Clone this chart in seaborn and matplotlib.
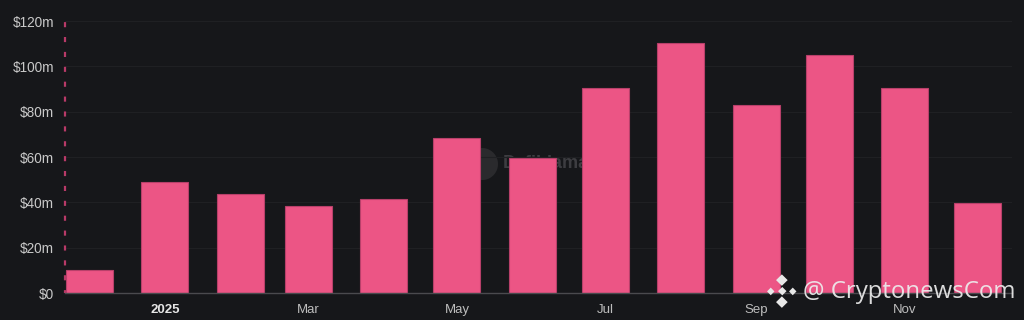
import matplotlib
matplotlib.use('Agg')
import matplotlib.dates as mdates
import matplotlib.pyplot as plt
import pandas as pd
import seaborn as sns

# monthly values ($m), bars centred on the first day of each month
months = ['2024-12-01', '2025-01-01', '2025-02-01', '2025-03-01', '2025-04-01',
          '2025-05-01', '2025-06-01', '2025-07-01', '2025-08-01', '2025-09-01',
          '2025-10-01', '2025-11-01', '2025-12-01']
values = [10.2, 49.0, 43.8, 38.5, 41.5, 68.5, 59.5, 90.6, 110.4, 83.0,
          105.0, 90.5, 39.7]

tick_dates = ['2025-01-01', '2025-03-01', '2025-05-01', '2025-07-01',
              '2025-09-01', '2025-11-01']
tick_labels = ['2025', 'Mar', 'May', 'Jul', 'Sep', 'Nov']
y_ticks = [0, 20, 40, 60, 80, 100, 120]
y_labels = ['$0', '$20m', '$40m', '$60m', '$80m', '$100m', '$120m']

BG = '#16171a'
PINK = '#ec5585'

df = pd.DataFrame({'x': mdates.date2num(pd.to_datetime(months)), 'value': values})

sns.set_style('dark')
plt.rcParams['font.family'] = ['Liberation Sans', 'DejaVu Sans']

fig = plt.figure(figsize=(10.24, 3.2), dpi=100, facecolor=BG)
ax = fig.add_axes([65 / 1024, 27 / 320, 947 / 1024, 272 / 320])
ax.set_facecolor(BG)

# faint DefiLlama watermark, behind the bars
ax.text(482 / 1024, 157 / 320, '\u25cf', color='#2a2a2d', fontsize=30,
        ha='center', va='center', transform=fig.transFigure, zorder=0.5,
        family='DejaVu Sans')
ax.text(503 / 1024, 157 / 320, 'DefiLlama', color='#3d3d41', fontsize=13,
        fontweight='bold', ha='left', va='center', transform=fig.transFigure,
        zorder=0.5)

sns.barplot(data=df, x='x', y='value', native_scale=True, width=0.69,
            color=PINK, saturation=1, edgecolor='#b8406a', linewidth=0.8,
            zorder=2, ax=ax)

first = mdates.date2num(pd.Timestamp(months[0]))
last = mdates.date2num(pd.Timestamp(months[-1]))
ax.set_xlim(first - 10.1, last + 14.2)
ax.set_ylim(0, 120)

# axes styling
ax.set_yticks(y_ticks)
ax.set_yticklabels(y_labels)
ax.set_xticks(mdates.date2num(pd.to_datetime(tick_dates)))
ax.set_xticklabels(tick_labels)
ax.set_xlabel('')
ax.set_ylabel('')
ax.grid(axis='y', color='#1f2023', linewidth=0.8)
ax.set_axisbelow(True)
ax.tick_params(axis='y', length=0, pad=8, labelsize=9.8, labelcolor='#c9c9c9')
ax.tick_params(axis='x', length=4, width=0.8, color='#bbbbbb', pad=4,
               labelsize=9.5, labelcolor='#bdbdbd')
ax.get_xticklabels()[0].set_fontweight('bold')
ax.get_xticklabels()[0].set_color('#e6e6e6')

for s in ['top', 'right', 'left']:
    ax.spines[s].set_visible(False)
ax.spines['bottom'].set_color('#4a4a4e')
ax.spines['bottom'].set_linewidth(1)

# dashed marker line on the left edge
ax.axvline(first - 9.9, color='#b83a68', linewidth=1.6,
           linestyle=(1, (2.3, 4.4)), zorder=1, clip_on=False)

# Cryptonews watermark with logo
logo = [(782, 302, 11), (771, 291, 7), (793, 291, 7), (782, 291, 8),
        (782, 280, 11)]
for px, py, fs in logo:
    fig.text(px / 1024, (320 - py) / 320, '\u25c6', color='#e8e8e8',
             fontsize=fs, ha='center', va='center', family='DejaVu Sans')
fig.text(803 / 1024, 28 / 320, '@ CryptonewsCom', color='#ededed',
         fontsize=17.3, ha='left', va='center', family='Open Sans', alpha=0.92)

plt.savefig('out.png', dpi=100, facecolor=BG)
plt.close()
